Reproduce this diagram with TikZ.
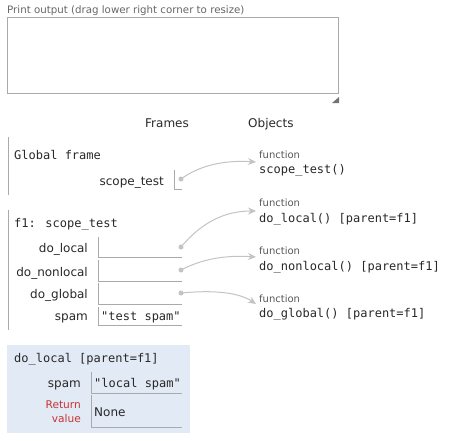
\documentclass[tikz,border=0pt]{standalone}
\usepackage{fontspec}
\setmainfont{DejaVu Sans}
\newfontfamily\monof{DejaVu Sans Mono}
\usetikzlibrary{arrows.meta}
\definecolor{txt}{RGB}{40,40,40}
\definecolor{lgray}{RGB}{170,170,170}
\definecolor{ptrgray}{RGB}{195,195,195}
\definecolor{framebg}{RGB}{226,234,245}
\definecolor{retred}{RGB}{200,50,50}
\begin{document}
\begin{tikzpicture}[x=1pt,y=-1pt,
 lbl/.style={inner sep=0pt, font=\fontsize{12}{14}\selectfont, text=txt},
 mono/.style={inner sep=0pt, font=\monof\fontsize{12}{14}\selectfont, text=txt},
 fnl/.style={inner sep=0pt, font=\fontsize{10}{12}\selectfont, text=black!65},
 retl/.style={inner sep=0pt, font=\fontsize{10.6}{12}\selectfont, text=retred},
 frameline/.style={draw=lgray, line width=1pt},
 cell/.style={draw=lgray, line width=1pt},
 ptr/.style={draw=ptrgray, line width=1pt, -{Stealth[length=8pt,width=7pt]}},
 dotp/.style={circle, fill=ptrgray, inner sep=0pt, minimum size=5pt},
]
\useasboundingbox (0,0) rectangle (474,440);

% print output area
\node[inner sep=0pt, anchor=base west, font=\fontsize{10.25}{12}\selectfont, text=black!60] (plbl) at (7,13) {Print output (drag lower right corner to resize)};
\draw[draw=lgray, line width=1pt] (7,17) rectangle (338,93);
\fill[black!55] (332,103) -- (339,97) -- (339,103) -- cycle;

% headings
\node[lbl, anchor=base west] (frames) at (145,127) {Frames};
\node[lbl, anchor=base west] (objects) at (248,127) {Objects};

% global frame
\draw[frameline] (8,137) -- (8,195);
\node[mono, anchor=base west] (gf) at (14,159) {Global frame};
\node[lbl, anchor=base east] (gst) at (164,185) {scope\_test};
\draw[cell] (174,170) -- (174,189) -- (182,189);
\node[dotp] (d1) at (181,179) {};

% f1 frame
\draw[frameline] (8,210) -- (8,330);
\node[mono, anchor=base west] (f1) at (14,227) {f1: scope\_test};
\node[lbl, anchor=base east] (l1) at (88,252) {do\_local};
\node[lbl, anchor=base east] (l2) at (88,276) {do\_nonlocal};
\node[lbl, anchor=base east] (l3) at (88,298) {do\_global};
\node[lbl, anchor=base east] (l4) at (88,320) {spam};
\draw[cell] (98,237) -- (98,257) -- (182,257);
\draw[cell] (98,260) -- (98,281) -- (182,281);
\draw[cell] (98,283) -- (98,304) -- (182,304);
\draw[cell] (98,307) -- (98,325) -- (182,325);
\node[mono, anchor=base west] (v4) at (101,320) {"test spam"};
\node[dotp] (d2) at (181,247) {};
\node[dotp] (d3) at (181,270) {};
\node[dotp] (d4) at (181,293) {};

% objects
\node[fnl, anchor=base west] (o1a) at (259,158) {function};
\node[mono, anchor=base west] (o1b) at (259,173) {scope\_test()};
\node[fnl, anchor=base west] (o2a) at (259,206) {function};
\node[mono, anchor=base west] (o2b) at (259,222) {do\_local() [parent=f1]};
\node[fnl, anchor=base west] (o3a) at (259,254) {function};
\node[mono, anchor=base west] (o3b) at (259,270) {do\_nonlocal() [parent=f1]};
\node[fnl, anchor=base west] (o4a) at (259,302) {function};
\node[mono, anchor=base west] (o4b) at (259,317) {do\_global() [parent=f1]};

\coordinate (t1) at (256,162);
\coordinate (t2) at (256,211);
\coordinate (t3) at (256,257);
\coordinate (t4) at (256,304);

\draw[ptr] (d1.center) .. controls (200,165) and (225,160) .. (t1);
\draw[ptr] (d2.center) .. controls (202,222) and (225,211) .. (t2);
\draw[ptr] (d3.center) .. controls (202,259) and (225,255) .. (t3);
\draw[ptr] (d4.center) .. controls (212,290) and (238,292) .. (t4);

% do_local frame
\fill[framebg] (7,345) rectangle (190,433);
\node[mono, anchor=base west] (lf) at (14,362) {do\_local [parent=f1]};
\node[lbl, anchor=base east] (ls) at (81,387) {spam};
\node[retl, anchor=base east] (lr1) at (81,408) {Return};
\node[retl, anchor=base east] (lr2) at (81,422) {value};
\draw[cell] (91,372) -- (91,393) -- (182,393);
\draw[cell] (91,395) -- (91,427) -- (182,427);
\node[mono, anchor=base west] (lv) at (94,387) {"local spam"};
\node[lbl, anchor=base west] (ln) at (94,416) {None};
\end{tikzpicture}
\end{document}
